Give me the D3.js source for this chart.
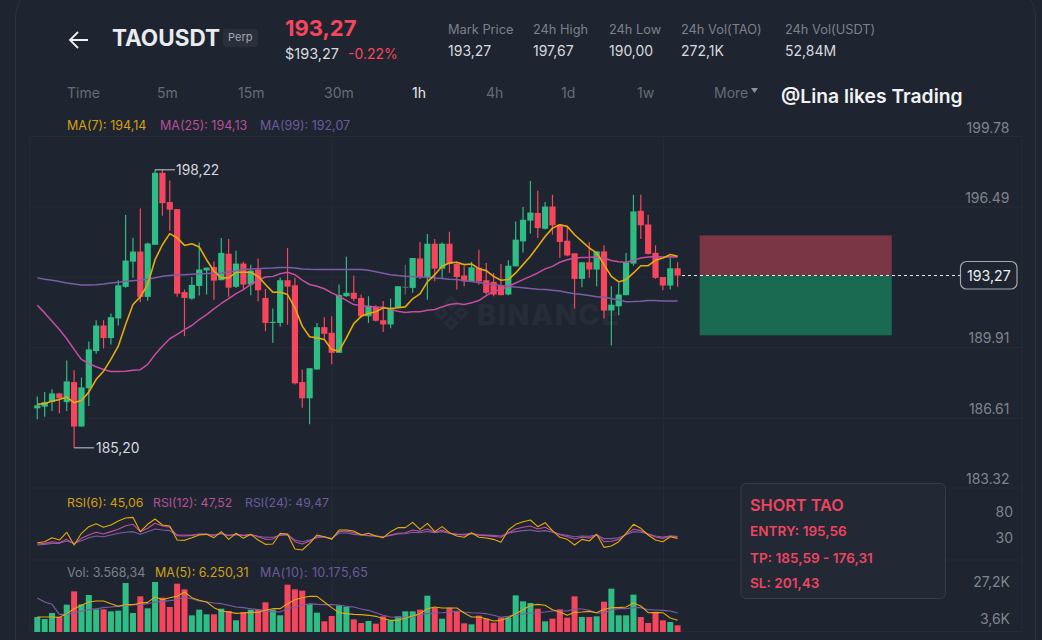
<!DOCTYPE html>
<html>
<head>
<meta charset="utf-8">
<script src="https://cdn.jsdelivr.net/npm/d3@7"></script>
<style>
  html, body { margin: 0; padding: 0; background: #1e2530; }
  svg { display: block; font-family: Inter, "Noto Sans", sans-serif; }
</style>
</head>
<body>
<svg id="canvas" width="1042" height="640"></svg>
<script>
// chart values
const opens = [187.05,187.13,187.34,187.75,187.34,188.28,186.20,187.99,189.73,190.93,190.34,191.26,192.74,193.92,194.39,192.27,194.71,198.08,196.71,196.38,192.49,192.19,192.78,193.51,193.67,193.05,194.29,192.74,193.83,192.85,193.55,192.22,191.05,191.05,193.05,192.81,188.28,187.52,188.87,190.85,190.59,189.65,192.30,192.46,192.22,191.36,191.80,191.18,190.98,191.76,192.74,192.69,194.07,193.20,194.76,193.59,194.76,193.81,193.27,193.00,193.63,193.05,192.97,192.81,192.38,193.70,194.87,195.84,196.20,195.46,196.50,195.65,194.90,194.31,193.11,193.89,193.55,194.40,191.63,191.83,192.35,193.83,196.30,195.66,194.33,193.20,192.80,193.61];
const highs = [187.61,187.81,187.94,187.78,189.29,188.83,188.50,190.18,191.18,191.18,191.49,193.05,196.10,195.04,196.41,194.82,198.22,198.22,197.72,196.38,192.61,193.20,194.82,193.64,193.93,195.03,194.98,194.43,193.92,193.78,194.07,192.64,191.72,193.16,194.56,193.17,188.87,188.93,191.05,191.32,191.36,192.85,194.15,193.27,192.38,192.30,191.88,192.08,192.19,192.77,193.78,194.09,194.84,195.21,194.98,194.82,195.32,193.93,193.70,193.91,194.48,193.86,193.39,193.81,193.98,195.80,196.48,197.70,197.24,196.71,197.05,195.65,195.57,194.31,193.89,194.84,194.40,194.67,192.77,192.92,194.33,197.05,197.05,196.12,194.68,193.20,194.09,193.89];
const lows = [186.54,186.66,186.92,186.82,186.92,185.20,186.20,187.16,189.61,189.85,190.04,190.93,192.70,193.17,192.02,192.10,194.71,196.07,195.37,192.27,190.43,192.14,192.33,192.38,192.14,193.05,192.27,192.70,192.61,192.35,192.06,190.66,190.12,190.87,190.97,188.17,187.08,186.30,188.87,190.27,189.11,189.65,192.27,192.06,191.29,191.05,191.12,190.63,190.80,191.76,192.38,192.46,193.11,192.14,193.00,193.16,193.39,192.61,192.77,192.97,192.85,192.38,192.30,192.35,192.35,193.70,194.35,195.23,195.03,195.42,195.18,194.09,194.17,191.72,192.72,193.16,192.77,191.26,189.99,191.41,192.35,193.73,194.98,194.25,193.11,192.58,192.61,192.74];
const closes = [187.19,187.34,187.75,187.52,188.31,186.20,188.03,189.81,190.93,190.34,191.32,192.81,193.97,194.39,192.27,194.77,198.08,196.66,196.35,192.42,192.22,192.83,193.55,193.64,193.03,194.33,192.70,193.83,192.85,193.50,192.58,191.05,191.10,193.05,192.75,188.22,187.52,188.93,190.85,190.54,189.65,192.36,192.46,192.18,191.36,191.83,191.15,190.98,191.76,192.77,192.74,194.09,193.20,194.76,193.59,194.76,193.81,193.20,193.00,193.65,192.99,192.46,192.38,192.35,193.73,194.95,195.88,196.22,195.49,196.50,195.62,194.84,194.21,193.11,193.89,193.55,194.40,191.63,191.90,192.38,193.89,196.27,195.62,194.28,193.16,192.80,193.61,193.27];

const ma7 = [187.24,187.27,187.39,187.46,187.58,187.32,187.42,187.81,188.41,188.79,189.34,189.96,190.98,191.91,192.27,192.85,194.01,194.71,195.23,195.03,194.68,194.76,194.61,194.01,193.47,193.16,193.16,193.42,193.42,193.42,193.23,192.85,192.49,192.50,192.38,191.76,190.90,190.40,190.35,190.27,189.81,189.73,190.35,191.02,191.36,191.49,191.57,191.76,191.71,191.76,191.80,192.18,192.41,192.97,193.31,193.70,193.86,193.89,193.78,193.81,193.59,193.50,193.23,193.05,193.08,193.39,193.78,194.17,194.63,195.10,195.49,195.65,195.57,195.18,194.87,194.56,194.33,193.78,193.23,192.97,193.08,193.39,193.73,193.73,193.98,194.09,194.25,194.17];
const ma25 = [191.88,191.52,191.13,190.74,190.31,189.81,189.34,189.14,189.00,188.87,188.78,188.78,188.79,188.83,188.86,189.11,189.57,189.96,190.31,190.51,190.74,190.93,191.21,191.44,191.71,191.96,192.19,192.42,192.61,192.85,193.05,193.20,193.23,193.35,193.42,193.31,193.05,192.85,192.77,192.65,192.46,192.30,192.11,191.91,191.86,191.83,191.80,191.78,191.68,191.60,191.54,191.57,191.57,191.64,191.68,191.80,191.91,191.96,191.91,191.99,192.10,192.33,192.53,192.61,192.77,192.92,193.08,193.23,193.39,193.58,193.70,193.89,194.01,194.09,194.11,194.12,194.14,194.09,193.97,193.91,193.89,193.98,194.09,194.14,194.15,194.14,194.15,194.14];
const ma99 = [193.16,193.10,193.05,192.99,192.92,192.87,192.83,192.83,192.84,192.87,192.92,192.96,193.00,193.03,193.06,193.10,193.17,193.24,193.27,193.29,193.31,193.33,193.35,193.36,193.38,193.39,193.43,193.48,193.56,193.58,193.59,193.61,193.62,193.64,193.65,193.62,193.58,193.56,193.55,193.55,193.55,193.55,193.55,193.55,193.55,193.52,193.45,193.38,193.31,193.27,193.24,193.22,193.20,193.19,193.15,193.13,193.10,193.08,193.03,192.99,192.94,192.89,192.85,192.80,192.77,192.73,192.70,192.66,192.63,192.61,192.58,192.54,192.47,192.42,192.38,192.33,192.28,192.25,192.19,192.12,192.04,192.05,192.07,192.10,192.10,192.08,192.08,192.08];

const rsi6 = [36.4,38.3,46.0,41.5,56.3,31.9,54.4,67.2,72.9,65.9,70.4,78.1,83.8,85.1,57.6,71.7,81.9,70.4,68.5,41.5,40.9,46.0,51.2,52.4,46.0,57.6,42.8,54.4,44.7,52.4,41.5,33.2,33.8,54.4,52.4,24.2,22.3,35.1,51.2,47.9,42.8,60.8,60.8,58.8,51.2,54.4,49.2,46.0,57.6,65.3,65.3,75.5,62.1,73.6,57.6,67.2,55.6,49.2,46.7,55.6,46.7,45.4,42.8,37.1,60.8,71.7,76.8,80.0,67.2,74.9,59.5,46.7,42.8,31.9,42.8,39.6,52.4,27.4,30.0,38.3,54.4,71.7,64.0,51.2,41.5,38.3,47.9,44.7];
const rsi12 = [33.8,35.1,38.3,36.4,42.8,33.8,44.7,51.2,56.3,53.1,57.6,62.1,69.1,71.7,57.6,64.0,73.6,68.5,65.9,49.9,49.2,50.5,53.1,53.1,50.5,54.4,49.9,53.1,49.9,52.4,47.9,42.8,43.5,52.4,53.1,38.3,33.8,39.6,47.9,47.9,44.1,57.6,58.8,55.6,52.4,49.9,49.2,47.3,51.2,54.4,55.6,60.8,58.2,62.7,56.3,60.8,54.4,52.4,51.2,54.4,50.5,49.9,48.6,46.7,55.6,62.7,65.9,68.5,62.7,65.9,58.2,51.8,47.9,43.5,46.7,45.4,51.8,38.3,39.0,42.8,52.4,62.1,59.5,53.1,47.3,44.7,49.2,47.3];
const rsi24 = [31.9,33.2,35.1,35.1,39.6,35.1,40.3,46.0,49.2,47.9,51.2,54.4,56.3,57.6,52.4,57.6,62.7,60.8,59.5,51.2,51.2,51.2,52.4,52.4,51.2,53.7,50.5,51.8,50.5,51.8,48.6,46.7,46.7,50.5,51.2,41.5,38.3,41.5,46.0,47.3,44.7,54.4,55.6,52.4,51.2,49.9,49.2,47.9,50.5,53.1,53.7,56.3,55.6,58.2,55.6,57.6,54.4,53.1,52.4,53.7,51.8,51.2,50.5,49.2,54.4,57.6,59.5,60.8,58.2,59.5,56.3,53.1,50.5,47.9,49.2,48.6,51.8,44.1,44.1,46.0,51.8,57.6,56.3,53.1,49.2,47.3,49.2,48.6];

const volumes = [9.55,8.28,12.10,9.55,17.41,25.90,17.62,23.57,14.44,14.44,13.16,13.59,31.21,12.10,22.72,15.07,31.85,21.87,15.92,30.79,27.18,10.62,14.23,11.25,11.25,14.86,13.38,7.43,12.74,14.23,14.44,18.90,14.23,10.62,30.15,27.18,26.33,17.62,12.31,6.79,10.19,16.99,15.92,8.07,5.73,7.01,5.31,9.98,7.43,9.98,13.16,13.16,14.23,23.14,15.50,8.49,15.50,13.16,5.52,4.88,10.40,8.49,5.94,9.13,9.13,23.35,19.53,18.47,14.86,6.79,8.49,14.44,9.13,22.72,9.55,9.55,9.98,19.32,27.60,10.62,10.62,23.78,9.55,5.73,12.74,7.43,6.37,4.25];
const volMa5 = [9.55,9.55,9.55,9.34,11.68,14.86,16.99,19.11,19.75,19.75,18.05,16.35,17.41,17.41,18.47,18.90,22.29,20.59,21.87,22.72,25.48,21.87,20.17,19.11,15.50,13.38,12.74,11.89,12.10,12.53,12.53,13.80,14.86,14.86,18.05,20.59,21.87,22.72,22.72,19.11,15.50,12.31,11.68,11.25,11.04,10.62,9.98,8.49,7.43,7.43,8.92,10.19,11.68,14.86,15.92,15.29,15.29,15.29,12.10,9.55,9.55,8.49,7.01,7.43,9.13,11.68,14.23,16.99,17.62,16.99,14.23,12.74,10.62,12.53,12.74,13.16,12.31,14.44,15.50,15.50,15.92,18.47,16.56,12.31,12.53,12.31,8.92,7.43];
const volMa10 = [21.66,19.11,17.62,11.25,11.25,11.89,13.38,14.23,14.86,15.50,15.92,16.35,16.99,17.41,17.41,18.05,19.11,19.53,19.96,20.59,22.29,21.23,19.75,19.11,18.47,18.05,16.99,15.92,15.50,14.86,14.23,13.38,12.95,12.74,14.86,15.92,16.99,18.05,17.62,17.41,17.41,17.20,16.35,15.92,14.65,13.80,12.31,10.62,9.55,9.34,9.34,9.55,11.25,11.68,12.10,12.31,12.74,13.38,12.74,12.31,12.10,11.68,10.62,9.34,9.98,11.25,11.46,12.10,12.31,12.74,13.38,13.38,13.38,14.65,14.65,13.80,12.10,12.10,14.23,14.86,14.86,15.50,15.50,14.23,14.01,13.80,13.38,12.10];

const priceTicks = [199.78, 196.49, 189.91, 186.61, 183.32];
const rsiTicks = [80, 30];
const volTicks = [27.2, 3.6];
const lastPrice = 193.27;
const positionPrices = [195.15, 193.27, 190.47];
const positionCandles = [90.0, 116.1];
const timeframes = ["Time", "5m", "15m", "30m", "1h", "4h", "1d", "1w", "More"];
const stats = ["Mark Price", "24h High", "24h Low", "24h Vol(TAO)", "24h Vol(USDT)"];
const statValues = ["193,27", "197,67", "190,00", "272,1K", "52,84M"];

const GREEN = "#2ebd85", RED = "#f6465d", GREY = "#5e6673";
const YELLOW = "#e5ab0e", PINK = "#c64da0", PURPLE = "#7d5ca8";

let svg = d3.select("#canvas");

let x = d3.scaleLinear().domain([0, opens.length - 1]).range([37.3, 677.6]);
let y = d3.scaleLinear().domain([183.32, 199.78]).range([488, 136.5]);
let yRsi = d3.scaleLinear().domain([30, 80]).range([546, 520]);
let yVol = d3.scaleLinear().domain([0, 27.2]).range([632, 589.3]);

let text = (str, px, py, size, fill, weight) =>
  svg.append("text").attr("x", px).attr("y", py).attr("font-size", size)
    .attr("fill", fill).attr("font-weight", weight || 400).text(str);

// outer card
svg.append("rect").attr("x", 15.5).attr("y", -20).attr("width", 1020).attr("height", 720)
  .attr("rx", 38).attr("fill", "none").attr("stroke", "#2c333e");

// grid
let grid = svg.append("g").attr("stroke", "#252c37").attr("stroke-width", 1);
[136.5, 207, 277, 347.5, 418, 488, 560, 631.5].forEach(v => {
  grid.append("line").attr("x1", 30).attr("x2", 1022).attr("y1", v).attr("y2", v);
});
[30, 331.7, 663.4, 1022].forEach(v => {
  grid.append("line").attr("x1", v).attr("x2", v).attr("y1", 136.5).attr("y2", 631.5);
});

// watermark
let mark = svg.append("g").attr("fill", "#272d38");
[[451, 303], [441, 313], [461, 313], [451, 323]].forEach(c => {
  mark.append("path").attr("transform", `translate(${c[0]},${c[1]}) rotate(45)`)
    .attr("d", "M-5.5,-5.5H5.5V5.5H-5.5Z M-2,-2V2H2V-2Z").attr("fill-rule", "evenodd");
});
svg.append("text").attr("x", 477).attr("y", 325).attr("font-size", 29).attr("font-weight", 800)
  .attr("letter-spacing", 1.4).attr("fill", "#272d38").text("BINANCE");

// header
svg.append("path").attr("d", "M88,40H70M78,32L70,40L78,48").attr("fill", "none")
  .attr("stroke", "#f0f1f3").attr("stroke-width", 1.8);
text("TAOUSDT", 112, 46, 22.5, "#e9ebee", 700);
svg.append("rect").attr("x", 223).attr("y", 29).attr("width", 35).attr("height", 18).attr("rx", 3).attr("fill", "#2a303b");
text("Perp", 228, 41, 11, "#a4a8b0");
text("193,27", 285, 36, 22, "#f6465d", 700);
text("$193,27", 285, 59, 14.5, "#d8dadf");
text("-0.22%", 348, 59, 14, "#f6465d");

let statX = [448, 533, 609, 681, 785];
stats.forEach((s, i) => {
  text(s, statX[i], 34, 12.8, "#7c818a");
  text(statValues[i], statX[i], 56, 14, "#d8dadf");
});

let tabX = [67, 157, 238, 324, 412, 486, 561, 637, 714];
timeframes.forEach((t, i) => {
  text(t, tabX[i], 98, 14, t === "1h" ? "#e6e8eb" : "#666c76");
});
svg.append("path").attr("d", "M751,88H758L754.5,93Z").attr("fill", "#8d929b");
text("@Lina likes Trading", 781, 102.5, 19.3, "#f1f2f4", 600);

text("MA(7): 194,14", 67, 130, 12.5, "#d3a012");
text("MA(25): 194,13", 160, 130, 12.5, "#b84f98");
text("MA(99): 192,07", 260, 130, 12.5, "#6d5a9d");

// position box
let [posTop, posMid, posBot] = positionPrices;
svg.append("rect").attr("x", x(positionCandles[0])).attr("width", x(positionCandles[1]) - x(positionCandles[0]))
  .attr("y", y(posTop)).attr("height", y(posMid) - y(posTop)).attr("fill", "#7a3644");
svg.append("rect").attr("x", x(positionCandles[0])).attr("width", x(positionCandles[1]) - x(positionCandles[0]))
  .attr("y", y(posMid)).attr("height", y(posBot) - y(posMid)).attr("fill", "#196a50");

// candles
let candleColor = i => closes[i] > opens[i] ? GREEN : closes[i] < opens[i] ? RED : GREY;
let candles = svg.append("g").selectAll("g").data(opens).enter().append("g");
candles.append("line")
  .attr("x1", (d, i) => x(i)).attr("x2", (d, i) => x(i))
  .attr("y1", (d, i) => y(highs[i])).attr("y2", (d, i) => y(lows[i]))
  .attr("stroke", (d, i) => candleColor(i)).attr("stroke-width", 1.2);
candles.append("rect")
  .attr("x", (d, i) => x(i) - 3.1).attr("width", 6.2)
  .attr("y", (d, i) => y(Math.max(opens[i], closes[i])))
  .attr("height", (d, i) => Math.max(1, Math.abs(y(opens[i]) - y(closes[i]))))
  .attr("fill", (d, i) => candleColor(i));

let drawLine = (values, scale, color, width) => {
  svg.append("path").datum(values)
    .attr("fill", "none").attr("stroke", color).attr("stroke-width", width)
    .attr("stroke-linejoin", "round")
    .attr("d", d3.line().x((d, i) => x(i)).y(d => scale(d)));
};
drawLine(ma99, y, PURPLE, 1.5);
drawLine(ma25, y, PINK, 1.5);
drawLine(ma7, y, YELLOW, 1.6);

// high and low notes
let hi = d3.max(highs), lo = d3.min(lows);
svg.append("line").attr("x1", x(highs.indexOf(hi))).attr("x2", x(highs.indexOf(hi)) + 20)
  .attr("y1", y(hi)).attr("y2", y(hi)).attr("stroke", "#c9ccd1");
text("198,22", x(highs.indexOf(hi)) + 21, y(hi) + 5.5, 13.8, "#d8dadf");
svg.append("line").attr("x1", x(lows.indexOf(lo))).attr("x2", x(lows.indexOf(lo)) + 20)
  .attr("y1", y(lo)).attr("y2", y(lo)).attr("stroke", "#c9ccd1");
text("185,20", x(lows.indexOf(lo)) + 22, y(lo) + 5.5, 13.8, "#d8dadf");

// current price line and tag
svg.append("line").attr("x1", 682).attr("x2", 960).attr("y1", y(lastPrice)).attr("y2", y(lastPrice))
  .attr("stroke", "#e6e8eb").attr("stroke-width", 1.2).attr("stroke-dasharray", "3 3");
svg.append("rect").attr("x", 960.5).attr("y", y(lastPrice) - 14).attr("width", 56.5).attr("height", 27.5)
  .attr("rx", 6).attr("fill", "#1e2530").attr("stroke", "#a3a7ae").attr("stroke-width", 1.2);
text("193,27", 967, y(lastPrice) + 5.5, 14.2, "#eceef0");

// rsi pane
text("RSI(6): 45,06", 67, 507, 12.3, "#d3a012");
text("RSI(12): 47,52", 153, 507, 12.3, "#b84f98");
text("RSI(24): 49,47", 245, 507, 12.3, "#6d5a9d");
drawLine(rsi24, yRsi, PURPLE, 1.1);
drawLine(rsi12, yRsi, PINK, 1.1);
drawLine(rsi6, yRsi, YELLOW, 1.1);

// volume pane
text("Vol: 3.568,34", 67, 577, 12.5, "#7c818a");
text("MA(5): 6.250,31", 155, 577, 12.5, "#d3a012");
text("MA(10): 10.175,65", 260, 577, 12.5, "#6d5a9d").attr("letter-spacing", 0.35);
svg.append("g").selectAll("rect").data(volumes).enter().append("rect")
  .attr("x", (d, i) => x(i) - 3).attr("width", 6)
  .attr("y", d => yVol(d)).attr("height", d => yVol(0) - yVol(d))
  .attr("fill", (d, i) => closes[i] >= opens[i] ? GREEN : RED);
drawLine(volMa10, yVol, PURPLE, 1.1);
drawLine(volMa5, yVol, YELLOW, 1.1);

// axes, labels sit a little above their grid lines
let drawAxis = (scale, ticks, format, right, up) => {
  let g = svg.append("g").attr("transform", `translate(${right},${-up})`)
    .call(d3.axisLeft(scale).tickValues(ticks).tickFormat(format).tickSize(0).tickPadding(0));
  g.select(".domain").remove();
  g.selectAll("text").attr("font-family", "Inter, sans-serif").attr("font-size", 14).attr("fill", "#7f848d");
};
drawAxis(y, priceTicks, d3.format(".2f"), 1009.5, 8.8);
drawAxis(yRsi, rsiTicks, d3.format("d"), 1013, 8);
drawAxis(yVol, volTicks, d => d.toFixed(1).replace(".", ",") + "K", 1010, 7.5);

// trade note
svg.append("rect").attr("x", 741).attr("y", 483.5).attr("width", 204.5).attr("height", 115)
  .attr("rx", 5).attr("fill", "#222834").attr("stroke", "#363c48");
text("SHORT TAO", 750, 510.5, 16.3, "#ee4560", 600);
text("ENTRY: 195,56", 750, 536, 13.6, "#ee4560", 600);
text("TP: 185,59 - 176,31", 750, 562.5, 13.6, "#ee4560", 600);
text("SL: 201,43", 750, 587.5, 13.6, "#ee4560", 600);
</script>
</body>
</html>
